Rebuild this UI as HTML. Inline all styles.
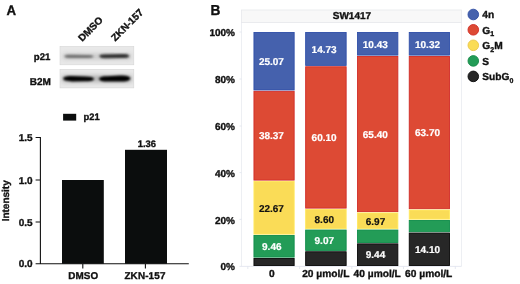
<!DOCTYPE html>
<html><head><meta charset="utf-8">
<style>
html,body{margin:0;padding:0;background:#fff;}
body{width:520px;height:284px;overflow:hidden;}
svg{display:block;}
text{text-rendering:geometricPrecision;font-family:"Liberation Sans",sans-serif;font-weight:bold;fill:#111;stroke:#111;stroke-width:0.35px;}
.w{fill:#fff;stroke:#fff;}
.v{font-size:10px;text-anchor:middle;stroke-width:0.2px;}
.yl{font-size:10px;text-anchor:end;}
.xl{font-size:10.2px;text-anchor:middle;}
.lg{font-size:10.2px;}
</style></head><body>
<svg width="520" height="284" viewBox="0 0 520 284">
<defs>
<filter id="b1" x="-20%" y="-150%" width="140%" height="400%"><feGaussianBlur stdDeviation="1.3 0.9"/></filter>
<filter id="b3" x="-20%" y="-150%" width="140%" height="400%"><feGaussianBlur stdDeviation="2.5 2"/></filter>
<filter id="b2" x="-20%" y="-150%" width="140%" height="400%"><feGaussianBlur stdDeviation="1.3 0.9"/></filter>
</defs>
<rect width="520" height="284" fill="#fff"/>

<!-- Panel A -->
<text transform="translate(6.5,15) scale(0.96,1)" font-size="13.8" stroke-width="0.6">A</text>
<text transform="translate(82.3,42) rotate(-45)" font-size="10">DMSO</text>
<text transform="translate(115.2,41.8) rotate(-45)" font-size="10">ZKN-157</text>

<text x="50.4" y="59.5" font-size="9.6" text-anchor="end">p21</text>
<text x="50.9" y="84.5" font-size="10" text-anchor="end">B2M</text>

<rect x="60" y="46.4" width="73.8" height="18.4" fill="#e8e8e8" stroke="#d6d6d6" stroke-width="0.6"/>
<rect x="60" y="69.3" width="73.8" height="18.6" fill="#e8e8e8" stroke="#d6d6d6" stroke-width="0.6"/>
<clipPath id="c1"><rect x="60.3" y="46.7" width="73.2" height="17.8"/></clipPath>
<clipPath id="c2"><rect x="60.3" y="69.6" width="73.2" height="18"/></clipPath>
<g clip-path="url(#c1)"><g filter="url(#b3)" opacity="0.28">
<rect x="63" y="53.8" width="68" height="5.4" fill="#777"/>
</g></g>
<g clip-path="url(#c2)"><g filter="url(#b3)" opacity="0.3">
<rect x="62.5" y="75.5" width="69" height="6.5" fill="#333"/>
</g></g>
<g filter="url(#b1)">
<path d="M64.3 56.3 C65 54.8 68 54.8 72 54.8 L86 54.9 C90 54.9 93 55.1 93.8 56.4 C93 57.9 90 57.9 86 57.9 L72 58 C68 58 65 57.8 64.3 56.3Z" fill="#707070"/>
<path d="M99.2 56.2 C100 54.4 103 54.4 107 54.3 L122 54.1 C126 54.1 128.6 54.4 129.4 55.9 C128.6 57.9 126 58.1 122 58.1 L107 58.2 C103 58.2 100 58 99.2 56.2Z" fill="#303030"/>
</g>
<g filter="url(#b2)">
<path d="M63 78.6 C64 76.2 68 76 72 76 L85 76.5 C90 76.6 93 77 94.2 79 C93 81.1 90 81.2 85 81.2 L72 81.4 C68 81.4 64 81.2 63 78.6Z" fill="#050505"/>
<path d="M98.8 78.8 C100 76.5 103 76.3 107 76.2 L120 75.5 C126 75.2 129.4 75.9 130.5 78.2 C129.6 81.1 126 81.5 120 81.5 L107 81.6 C103 81.6 100 81.3 98.8 78.8Z" fill="#050505"/>
</g>

<rect x="63.1" y="113.8" width="13.1" height="6.8" fill="#0b0d0d"/>
<text x="83.5" y="120.2" font-size="9.4">p21</text>

<!-- bar chart A -->
<rect x="62" y="180" width="41.8" height="83.8" fill="#0b0d0d"/>
<rect x="125" y="149.8" width="42" height="114" fill="#0b0d0d"/>
<path d="M35.6 137.5H40.4V263.8M35.6 180H40.4M35.6 222H40.4M35.6 263.8H188.8M82.8 263.8V268.6M145.4 263.8V268.6" fill="none" stroke="#111" stroke-width="1.1"/>
<text x="32.7" y="141.2" font-size="10" text-anchor="end">1.5</text>
<text x="32.7" y="183.6" font-size="10" text-anchor="end">1.0</text>
<text x="32.7" y="225.6" font-size="10" text-anchor="end">0.5</text>
<text x="32.7" y="267.4" font-size="10" text-anchor="end">0.0</text>
<text x="146.9" y="146.6" font-size="9.4" text-anchor="middle" stroke-width="0.25">1.36</text>
<text transform="translate(9.4,200.8) rotate(-90)" font-size="10" text-anchor="middle">Intensity</text>
<text x="83.2" y="279.2" font-size="9.9" letter-spacing="0.1" text-anchor="middle">DMSO</text>
<text x="145" y="279.2" font-size="9.9" letter-spacing="0.15" text-anchor="middle">ZKN-157</text>

<!-- Panel B -->
<text transform="translate(210.4,15) scale(0.95,1)" font-size="14.4" stroke-width="0.5">B</text>
<rect x="241.5" y="10" width="220" height="12.6" fill="#f8f8f8" stroke="#e6e8ec" stroke-width="0.8"/>
<path d="M241.5 22.6V266.2M461.5 22.6V266.2" stroke="#e9ebf0" stroke-width="0.8" fill="none"/>
<path d="M239.5 32H241.5M239.5 79H241.5M239.5 126H241.5M239.5 172.6H241.5M239.5 219.4H241.5M239.5 266.4H461.5M247.8 266.4V269M299.6 266.4V269M351.8 266.4V269M403.5 266.4V269M455.3 266.4V269" stroke="#dfe3ee" stroke-width="0.8" fill="none"/>
<text x="351.9" y="19.3" font-size="10" text-anchor="middle">SW1417</text>

<text class="yl" x="235" y="35.8">100%</text>
<text class="yl" x="235" y="82.8">80%</text>
<text class="yl" x="235" y="129.8">60%</text>
<text class="yl" x="235" y="176.7">40%</text>
<text class="yl" x="235" y="223.6">20%</text>
<text class="yl" x="235" y="270.4">0%</text>

<g stroke-width="0.9">
<!-- bar 1 -->
<rect x="253.95" y="32.45" width="40.20" height="57.55" fill="#4561ad" stroke="#2f4fa8"/>
<rect x="253.95" y="91.35" width="40.20" height="88.75" fill="#dd4a34" stroke="#d12c27"/>
<rect x="253.95" y="181.45" width="40.20" height="52.65" fill="#fadc57" stroke="#ffe85c"/>
<rect x="253.95" y="235.45" width="40.20" height="21.65" fill="#239c57" stroke="#0f8c4a"/>
<rect x="253.95" y="258.45" width="40.20" height="7.10" fill="#272727" stroke="#080808"/>
<!-- bar 2 -->
<rect x="305.65" y="32.45" width="40.50" height="32.95" fill="#4561ad" stroke="#2f4fa8"/>
<rect x="305.65" y="66.75" width="40.50" height="141.35" fill="#dd4a34" stroke="#d12c27"/>
<rect x="305.65" y="209.45" width="40.50" height="19.25" fill="#fadc57" stroke="#ffe85c"/>
<rect x="305.65" y="230.05" width="40.50" height="20.35" fill="#239c57" stroke="#0f8c4a"/>
<rect x="305.65" y="251.75" width="40.50" height="13.80" fill="#272727" stroke="#080808"/>
<!-- bar 3 -->
<rect x="357.55" y="32.45" width="40.30" height="22.65" fill="#4561ad" stroke="#2f4fa8"/>
<rect x="357.55" y="56.45" width="40.30" height="155.15" fill="#dd4a34" stroke="#d12c27"/>
<rect x="357.55" y="212.95" width="40.30" height="15.75" fill="#fadc57" stroke="#ffe85c"/>
<rect x="357.55" y="230.05" width="40.30" height="12.45" fill="#239c57" stroke="#0f8c4a"/>
<rect x="357.55" y="243.85" width="40.30" height="21.70" fill="#272727" stroke="#080808"/>
<!-- bar 4 -->
<rect x="409.25" y="32.45" width="40.20" height="22.65" fill="#4561ad" stroke="#2f4fa8"/>
<rect x="409.25" y="56.45" width="40.20" height="152.25" fill="#dd4a34" stroke="#d12c27"/>
<rect x="409.25" y="210.05" width="40.20" height="9.05" fill="#fadc57" stroke="#ffe85c"/>
<rect x="409.25" y="220.45" width="40.20" height="11.25" fill="#239c57" stroke="#0f8c4a"/>
<rect x="409.25" y="233.05" width="40.20" height="32.50" fill="#272727" stroke="#080808"/>
</g>

<!-- values -->
<text class="v w" x="271.4" y="65">25.07</text>
<text class="v w" x="271.4" y="139.4">38.37</text>
<text class="v" x="271.4" y="211.5">22.67</text>
<text class="v w" x="271.8" y="250">9.46</text>

<text class="v w" x="324.1" y="52.8">14.73</text>
<text class="v w" x="324.1" y="141.1">60.10</text>
<text class="v" x="324.3" y="222.6">8.60</text>
<text class="v w" x="324.3" y="244">9.07</text>

<text class="v w" x="375.3" y="47.6">10.43</text>
<text class="v w" x="375.3" y="137.6">65.40</text>
<text class="v" x="375.5" y="224.6">6.97</text>
<text class="v w" x="375.5" y="258.3">9.44</text>

<text class="v w" x="427.5" y="47.6">10.32</text>
<text class="v w" x="427.5" y="136.1">63.70</text>
<text class="v w" x="427.5" y="252.9">14.10</text>

<!-- x labels -->
<text class="xl" x="271.8" y="277.1">0</text>
<text class="xl" x="325.8" y="277.1">20 µmol/L</text>
<text class="xl" x="377.2" y="277.1">40 µmol/L</text>
<text class="xl" x="428.7" y="277.1">60 µmol/L</text>

<!-- legend -->
<circle cx="473.3" cy="14.5" r="5.3" fill="#4561ad" stroke="#2f4da3" stroke-width="0.9"/>
<circle cx="473.3" cy="29.8" r="5.3" fill="#dd4a34" stroke="#cf2a22" stroke-width="0.9"/>
<circle cx="473.3" cy="45.3" r="5.3" fill="#fadc55" stroke="#eac64a" stroke-width="0.9"/>
<circle cx="473.3" cy="60.9" r="5.3" fill="#239c57" stroke="#168a48" stroke-width="0.9"/>
<circle cx="473.3" cy="76.4" r="5.3" fill="#262626" stroke="#0c0c0c" stroke-width="0.9"/>
<text class="lg" x="482.3" y="18.2">4n</text>
<text class="lg" x="482.3" y="33.5">G<tspan font-size="7" dy="2.8">1</tspan></text>
<text class="lg" x="482.3" y="49">G<tspan font-size="7" dy="2.8">2</tspan><tspan dy="-2.8">M</tspan></text>
<text class="lg" x="482.3" y="64.6">S</text>
<text class="lg" x="482.3" y="80.1">SubG<tspan font-size="7" dy="2.8">0</tspan></text>
</svg>
</body></html>
